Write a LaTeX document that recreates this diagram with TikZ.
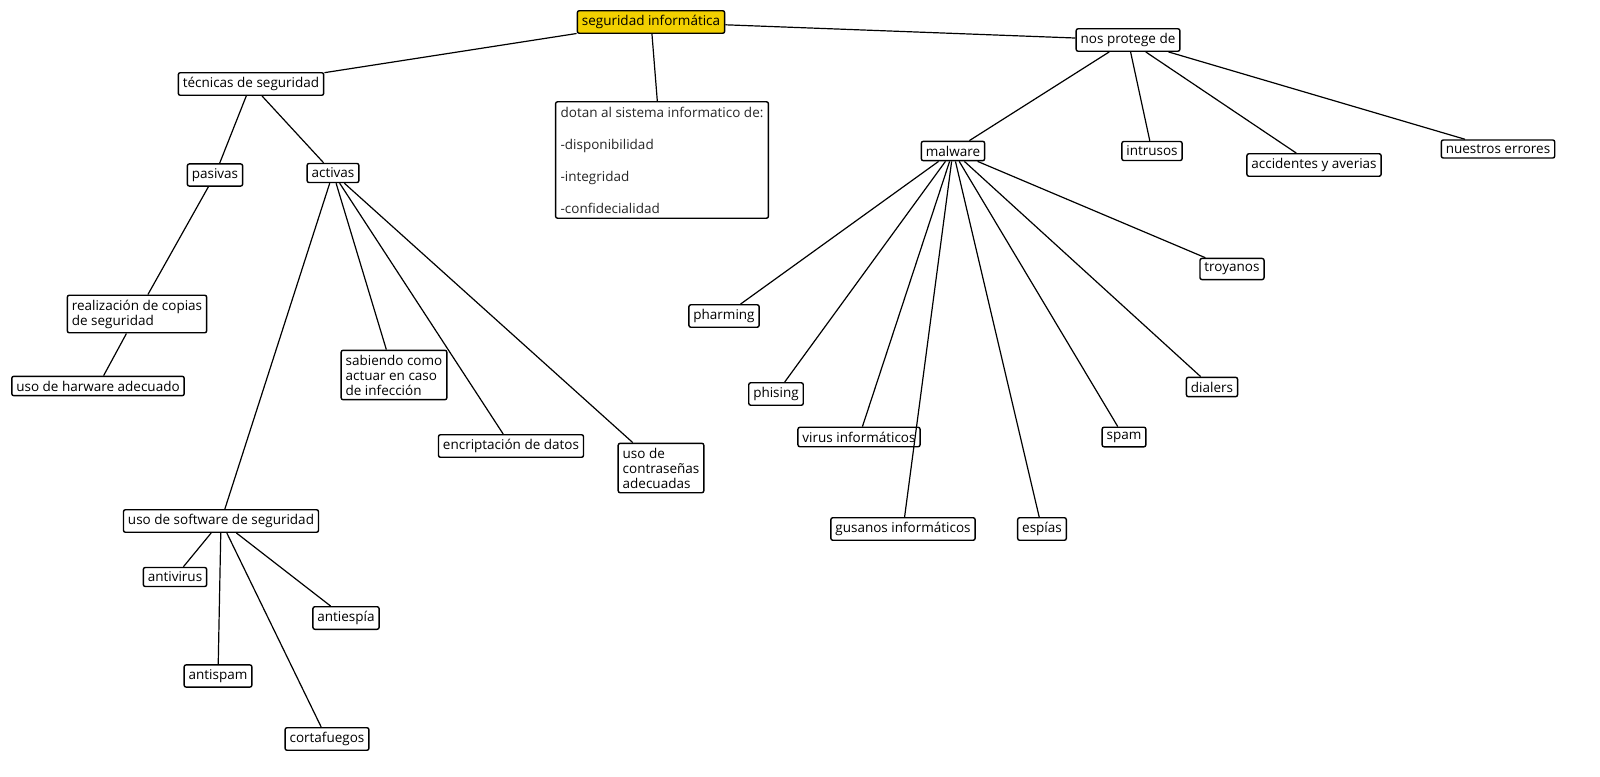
\documentclass[tikz,border=0pt]{standalone}
\usepackage{fontspec}
\setmainfont{Open Sans}
\begin{document}
\begin{tikzpicture}[x=1pt,y=-1pt,
  box/.style={draw=black,line width=1.4pt,rounded corners=2pt,fill=white,inner xsep=4.5pt,inner ysep=4.5pt,font=\fontsize{13.5}{15}\selectfont,align=left},
  conn/.style={line width=1.2pt}]
\useasboundingbox (0,0) rectangle (1600,776);
\node[box,fill={rgb,255:red,242;green,208;blue,0}] (root) at (651,22) {seguridad informática};
\node[box] (tec) at (251,84) {técnicas de seguridad};
\node[box,inner sep=5pt,text=black!85,font=\fontsize{13.5}{16}\selectfont] (dot) at (662,160) {dotan al sistema informatico de:\\[16pt]-disponibilidad\\[16pt]-integridad\\[16pt]-confidecialidad};
\node[box] (nos) at (1128,40) {nos protege de};
\node[box] (pas) at (215,175) {pasivas};
\node[box] (act) at (333,173) {activas};
\node[box] (rea) at (137,314) {realización de copias\\ de seguridad};
\node[box] (har) at (98,386) {uso de harware adecuado};
\node[box] (sab) at (394,375) {sabiendo como\\actuar en caso\\de infección};
\node[box] (enc) at (511,446) {encriptación de datos};
\node[box] (con) at (661,468) {uso de\\contraseñas\\adecuadas};
\node[box] (sof) at (221,521) {uso de software de seguridad};
\node[box] (antv) at (175,577) {antivirus};
\node[box] (ante) at (346,618) {antiespía};
\node[box] (ants) at (218,676) {antispam};
\node[box] (cort) at (327,739) {cortafuegos};
\node[box] (mal) at (953,151) {malware};
\node[box] (int) at (1152,151) {intrusos};
\node[box] (acc) at (1314,165) {accidentes y averias};
\node[box] (err) at (1498,149) {nuestros errores};
\node[box] (tro) at (1232,269) {troyanos};
\node[box] (pha) at (724,316) {pharming};
\node[box] (phi) at (776,394) {phising};
\node[box] (dia) at (1212,387) {dialers};
\node[box] (vir) at (859,437) {virus informáticos};
\node[box] (spa) at (1124,437) {spam};
\node[box] (gus) at (903,529) {gusanos informáticos};
\node[box] (esp) at (1042,529) {espías};
\foreach \a/\b in {root/tec,root/dot,root/nos,tec/pas,tec/act,pas/rea,rea/har,act/sab,act/enc,act/con,act/sof,sof/antv,sof/ante,sof/ants,sof/cort,nos/mal,nos/int,nos/acc,nos/err,mal/tro,mal/pha,mal/phi,mal/dia,mal/vir,mal/spa,mal/gus,mal/esp}
  \draw[conn] (\a) -- (\b);
\end{tikzpicture}
\end{document}
